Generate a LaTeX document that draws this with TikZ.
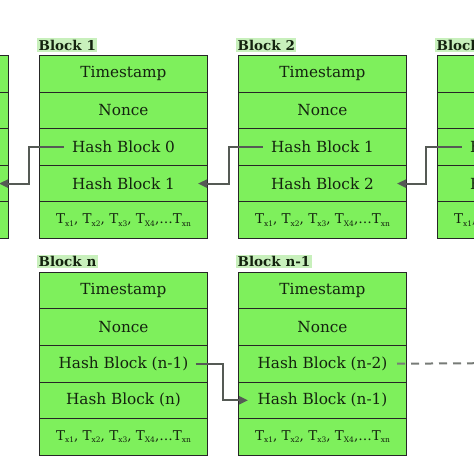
\documentclass[tikz,border=0pt]{standalone}
\usepackage{fontspec}
\setmainfont{DejaVu Serif}
\usetikzlibrary{arrows.meta,calc}
\definecolor{blockgreen}{RGB}{126,240,92}
\definecolor{labelgreen}{RGB}{200,240,188}
\definecolor{linkgray}{RGB}{85,90,85}
\definecolor{textdark}{RGB}{20,35,15}
\tikzset{
  row/.style={draw=black!85, line width=1pt, fill=blockgreen, minimum width=168pt,
    minimum height=36.6pt, inner sep=0pt, text=textdark, font=\fontsize{15.3}{17}\selectfont, anchor=north west},
  txrowstyle/.style={row, font=\fontsize{13.5}{15}\selectfont},
  blocklabel/.style={fill=labelgreen, text=textdark, font=\bfseries\fontsize{13.5}{15}\selectfont,
    inner sep=1.5pt, anchor=south west},
  link/.style={draw=linkgray, line width=2pt, -{Triangle[length=9pt,width=8pt]}},
  dashlink/.style={draw=linkgray!80, line width=2pt, dash pattern=on 8pt off 6pt},
}
\newcommand\tsub[1]{\raisebox{-0.35ex}{\fontsize{7.5}{8}\selectfont #1}}
\newcommand\txrow{T\tsub{x1}, T\tsub{x2}, T\tsub{x3}, T\tsub{X4},\ldots T\tsub{xn}}
% #1 name, #2 x, #3 y, #4-#8 row texts
\newcommand\chainblock[8]{%
  \node[row] (#1r1) at (#2,#3) {#4};
  \node[row] (#1r2) at (#2,#3+36.6) {#5};
  \node[row] (#1r3) at (#2,#3+73.2) {#6};
  \node[row] (#1r4) at (#2,#3+109.8) {#7};
  \node[txrowstyle] (#1r5) at (#2,#3+146.4) {#8};
}
\begin{document}
\begin{tikzpicture}[x=1pt,y=-1pt]
\useasboundingbox (0,0) rectangle (474,474);
\clip (0,0) rectangle (474,474);
% top row
\chainblock{b0}{-160}{55}{}{}{}{}{}
\chainblock{b1}{39}{55}{Timestamp}{Nonce}{Hash Block 0}{Hash Block 1}{\txrow}
\chainblock{b2}{238}{55}{Timestamp}{Nonce}{Hash Block 1}{Hash Block 2}{\txrow}
\chainblock{b3}{437}{55}{Timestamp}{Nonce}{Hash Block 2}{Hash Block 3}{\txrow}
\node[blocklabel] (b1lab) at (37,52) {Block 1};
\node[blocklabel] (b2lab) at (236,52) {Block 2};
\node[blocklabel] (b3lab) at (435,52) {Block 3};
% bottom row
\chainblock{bn}{39}{271.7}{Timestamp}{Nonce}{Hash Block (n-1)}{Hash Block (n)}{\txrow}
\chainblock{bm}{238}{271.7}{Timestamp}{Nonce}{Hash Block (n-2)}{Hash Block (n-1)}{\txrow}
\node[blocklabel] (bnlab) at (37,268.5) {Block n};
\node[blocklabel] (bmlab) at (236,268.5) {Block n-1};
% links
\draw[link] ($(b1r3.center)+(-60,0)$) -- ($(b1r3.west)+(-10,0)$) |- ($(b0r4.east)+(-10,0)$);
\draw[link] ($(b2r3.center)+(-60,0)$) -- ($(b2r3.west)+(-9,0)$) |- ($(b1r4.east)+(-10,0)$);
\draw[link] ($(b3r3.center)+(-60,0)$) -- ($(b3r3.west)+(-11,0)$) |- ($(b2r4.east)+(-10,0)$);
\draw[link] ($(bnr3.center)+(72,0)$) -- ($(bnr3.east)+(15,0)$) |- ($(bmr4.west)+(10,0)$);
\coordinate (dashend) at (480,363.2);
\draw[dashlink] ($(bmr3.east)+(-10,0)$) -- (dashend);
\end{tikzpicture}
\end{document}
